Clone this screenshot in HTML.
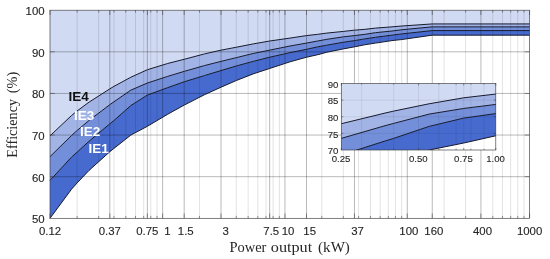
<!DOCTYPE html>
<html lang="en"><head><meta charset="utf-8"><title>Efficiency vs power output</title>
<style>html,body{margin:0;padding:0;background:#fff}body{width:550px;height:259px;overflow:hidden}svg{display:block}</style>
</head><body>
<svg width="550" height="259" viewBox="0 0 550 259">
<rect width="550" height="259" fill="#fff"/>
<g>
<path d="M50 10.2 L71.54 10.2 L77.14 10.2 L88.99 10.2 L109.82 10.2 L113.96 10.2 L130.88 10.2 L147.35 10.2 L167.7 10.2 L184.18 10.2 L204.52 10.2 L221 10.2 L236.28 10.2 L253.2 10.2 L269.67 10.2 L290.02 10.2 L306.5 10.2 L317.64 10.2 L326.84 10.2 L343.32 10.2 L354.46 10.2 L364.86 10.2 L375.52 10.2 L392 10.2 L401.68 10.2 L432.25 10.2 L529.6 10.2 L529.6 23.93 L432.25 23.93 L401.68 26.02 L392 26.85 L375.52 28.1 L364.86 29.35 L354.46 30.18 L343.32 31.43 L326.84 33.09 L317.64 34.34 L306.5 35.59 L290.02 38.09 L269.67 41 L253.2 43.91 L236.28 47.24 L221 50.16 L204.52 53.9 L184.18 59.31 L167.7 63.47 L147.35 69.72 L130.88 77.21 L113.96 86.36 L109.82 88.86 L88.99 102.18 L77.14 110.92 L71.54 115.5 L50 135.89Z" fill="#d1daf3"/>
<path d="M50 135.89 L71.54 115.5 L77.14 110.92 L88.99 102.18 L109.82 88.86 L113.96 86.36 L130.88 77.21 L147.35 69.72 L167.7 63.47 L184.18 59.31 L204.52 53.9 L221 50.16 L236.28 47.24 L253.2 43.91 L269.67 41 L290.02 38.09 L306.5 35.59 L317.64 34.34 L326.84 33.09 L343.32 31.43 L354.46 30.18 L364.86 29.35 L375.52 28.1 L392 26.85 L401.68 26.02 L432.25 23.93 L529.6 23.93 L529.6 26.85 L432.25 26.85 L401.68 29.76 L392 31.01 L375.52 32.67 L364.86 34.34 L354.46 35.59 L343.32 36.84 L326.84 39.33 L317.64 41 L306.5 43.08 L290.02 45.99 L269.67 50.16 L253.2 53.48 L236.28 57.65 L221 61.39 L204.52 65.55 L184.18 71.38 L167.7 76.38 L147.35 83.04 L130.88 90.11 L113.96 101.76 L109.82 104.68 L88.99 120.49 L77.14 130.48 L71.54 135.48 L50 156.7Z" fill="#a2b4e6"/>
<path d="M50 156.7 L71.54 135.48 L77.14 130.48 L88.99 120.49 L109.82 104.68 L113.96 101.76 L130.88 90.11 L147.35 83.04 L167.7 76.38 L184.18 71.38 L204.52 65.55 L221 61.39 L236.28 57.65 L253.2 53.48 L269.67 50.16 L290.02 45.99 L306.5 43.08 L317.64 41 L326.84 39.33 L343.32 36.84 L354.46 35.59 L364.86 34.34 L375.52 32.67 L392 31.01 L401.68 29.76 L432.25 26.85 L529.6 26.85 L529.6 30.59 L432.25 30.59 L401.68 33.92 L392 35.17 L375.52 37.25 L364.86 38.92 L354.46 40.58 L343.32 42.25 L326.84 45.16 L317.64 46.83 L306.5 49.32 L290.02 52.65 L269.67 57.23 L253.2 61.39 L236.28 65.97 L221 70.55 L204.52 75.54 L184.18 81.79 L167.7 87.61 L147.35 95.1 L130.88 105.51 L113.96 120.49 L109.82 123.82 L88.99 141.3 L77.14 152.12 L71.54 157.12 L50 180.43Z" fill="#748fda"/>
<path d="M50 180.43 L71.54 157.12 L77.14 152.12 L88.99 141.3 L109.82 123.82 L113.96 120.49 L130.88 105.51 L147.35 95.1 L167.7 87.61 L184.18 81.79 L204.52 75.54 L221 70.55 L236.28 65.97 L253.2 61.39 L269.67 57.23 L290.02 52.65 L306.5 49.32 L317.64 46.83 L326.84 45.16 L343.32 42.25 L354.46 40.58 L364.86 38.92 L375.52 37.25 L392 35.17 L401.68 33.92 L432.25 30.59 L529.6 30.59 L529.6 35.17 L432.25 35.17 L401.68 39.54 L392 40.58 L375.52 43.08 L364.86 44.74 L354.46 46.83 L343.32 48.91 L326.84 52.24 L317.64 54.73 L306.5 57.23 L290.02 61.81 L269.67 68.47 L253.2 73.88 L236.28 80.54 L221 87.2 L204.52 94.69 L184.18 105.09 L167.7 114.25 L147.35 126.32 L130.88 135.06 L113.96 148.38 L109.82 151.71 L88.99 170.44 L77.14 182.92 L71.54 189.17 L50 218.3Z" fill="#466ace"/>
</g>
<g><line x1="77.14" x2="77.14" y1="10.2" y2="218.3" stroke="#000" stroke-opacity="0.23" stroke-width="0.5"/><line x1="98.68" x2="98.68" y1="10.2" y2="218.3" stroke="#000" stroke-opacity="0.23" stroke-width="0.5"/><line x1="113.96" x2="113.96" y1="10.2" y2="218.3" stroke="#000" stroke-opacity="0.23" stroke-width="0.5"/><line x1="125.81" x2="125.81" y1="10.2" y2="218.3" stroke="#000" stroke-opacity="0.23" stroke-width="0.5"/><line x1="135.5" x2="135.5" y1="10.2" y2="218.3" stroke="#000" stroke-opacity="0.23" stroke-width="0.5"/><line x1="143.69" x2="143.69" y1="10.2" y2="218.3" stroke="#000" stroke-opacity="0.23" stroke-width="0.5"/><line x1="150.78" x2="150.78" y1="10.2" y2="218.3" stroke="#000" stroke-opacity="0.23" stroke-width="0.5"/><line x1="157.04" x2="157.04" y1="10.2" y2="218.3" stroke="#000" stroke-opacity="0.23" stroke-width="0.5"/><line x1="199.46" x2="199.46" y1="10.2" y2="218.3" stroke="#000" stroke-opacity="0.23" stroke-width="0.5"/><line x1="236.28" x2="236.28" y1="10.2" y2="218.3" stroke="#000" stroke-opacity="0.23" stroke-width="0.5"/><line x1="248.13" x2="248.13" y1="10.2" y2="218.3" stroke="#000" stroke-opacity="0.23" stroke-width="0.5"/><line x1="257.82" x2="257.82" y1="10.2" y2="218.3" stroke="#000" stroke-opacity="0.23" stroke-width="0.5"/><line x1="266.01" x2="266.01" y1="10.2" y2="218.3" stroke="#000" stroke-opacity="0.23" stroke-width="0.5"/><line x1="273.1" x2="273.1" y1="10.2" y2="218.3" stroke="#000" stroke-opacity="0.23" stroke-width="0.5"/><line x1="279.36" x2="279.36" y1="10.2" y2="218.3" stroke="#000" stroke-opacity="0.23" stroke-width="0.5"/><line x1="321.78" x2="321.78" y1="10.2" y2="218.3" stroke="#000" stroke-opacity="0.23" stroke-width="0.5"/><line x1="343.32" x2="343.32" y1="10.2" y2="218.3" stroke="#000" stroke-opacity="0.23" stroke-width="0.5"/><line x1="358.6" x2="358.6" y1="10.2" y2="218.3" stroke="#000" stroke-opacity="0.23" stroke-width="0.5"/><line x1="370.46" x2="370.46" y1="10.2" y2="218.3" stroke="#000" stroke-opacity="0.23" stroke-width="0.5"/><line x1="380.14" x2="380.14" y1="10.2" y2="218.3" stroke="#000" stroke-opacity="0.23" stroke-width="0.5"/><line x1="388.33" x2="388.33" y1="10.2" y2="218.3" stroke="#000" stroke-opacity="0.23" stroke-width="0.5"/><line x1="395.42" x2="395.42" y1="10.2" y2="218.3" stroke="#000" stroke-opacity="0.23" stroke-width="0.5"/><line x1="401.68" x2="401.68" y1="10.2" y2="218.3" stroke="#000" stroke-opacity="0.23" stroke-width="0.5"/><line x1="444.1" x2="444.1" y1="10.2" y2="218.3" stroke="#000" stroke-opacity="0.23" stroke-width="0.5"/><line x1="465.64" x2="465.64" y1="10.2" y2="218.3" stroke="#000" stroke-opacity="0.23" stroke-width="0.5"/><line x1="492.78" x2="492.78" y1="10.2" y2="218.3" stroke="#000" stroke-opacity="0.23" stroke-width="0.5"/><line x1="502.46" x2="502.46" y1="10.2" y2="218.3" stroke="#000" stroke-opacity="0.23" stroke-width="0.5"/><line x1="510.65" x2="510.65" y1="10.2" y2="218.3" stroke="#000" stroke-opacity="0.23" stroke-width="0.5"/><line x1="517.75" x2="517.75" y1="10.2" y2="218.3" stroke="#000" stroke-opacity="0.23" stroke-width="0.5"/><line x1="524" x2="524" y1="10.2" y2="218.3" stroke="#000" stroke-opacity="0.23" stroke-width="0.5"/><line x1="109.82" x2="109.82" y1="10.2" y2="218.3" stroke="#000" stroke-opacity="0.55" stroke-width="0.5"/><line x1="147.35" x2="147.35" y1="10.2" y2="218.3" stroke="#000" stroke-opacity="0.55" stroke-width="0.5"/><line x1="162.64" x2="162.64" y1="10.2" y2="218.3" stroke="#000" stroke-opacity="0.55" stroke-width="0.5"/><line x1="184.18" x2="184.18" y1="10.2" y2="218.3" stroke="#000" stroke-opacity="0.55" stroke-width="0.5"/><line x1="221" x2="221" y1="10.2" y2="218.3" stroke="#000" stroke-opacity="0.55" stroke-width="0.5"/><line x1="269.67" x2="269.67" y1="10.2" y2="218.3" stroke="#000" stroke-opacity="0.55" stroke-width="0.5"/><line x1="284.96" x2="284.96" y1="10.2" y2="218.3" stroke="#000" stroke-opacity="0.55" stroke-width="0.5"/><line x1="306.5" x2="306.5" y1="10.2" y2="218.3" stroke="#000" stroke-opacity="0.55" stroke-width="0.5"/><line x1="354.46" x2="354.46" y1="10.2" y2="218.3" stroke="#000" stroke-opacity="0.55" stroke-width="0.5"/><line x1="407.28" x2="407.28" y1="10.2" y2="218.3" stroke="#000" stroke-opacity="0.55" stroke-width="0.5"/><line x1="432.25" x2="432.25" y1="10.2" y2="218.3" stroke="#000" stroke-opacity="0.55" stroke-width="0.5"/><line x1="480.92" x2="480.92" y1="10.2" y2="218.3" stroke="#000" stroke-opacity="0.55" stroke-width="0.5"/><line x1="50.0" x2="529.6" y1="176.68" y2="176.68" stroke="#000" stroke-opacity="0.55" stroke-width="0.5"/><line x1="50.0" x2="529.6" y1="135.06" y2="135.06" stroke="#000" stroke-opacity="0.55" stroke-width="0.5"/><line x1="50.0" x2="529.6" y1="93.44" y2="93.44" stroke="#000" stroke-opacity="0.55" stroke-width="0.5"/><line x1="50.0" x2="529.6" y1="51.82" y2="51.82" stroke="#000" stroke-opacity="0.55" stroke-width="0.5"/></g>
<path d="M50 135.89 L71.54 115.5 L77.14 110.92 L88.99 102.18 L109.82 88.86 L113.96 86.36 L130.88 77.21 L147.35 69.72 L167.7 63.47 L184.18 59.31 L204.52 53.9 L221 50.16 L236.28 47.24 L253.2 43.91 L269.67 41 L290.02 38.09 L306.5 35.59 L317.64 34.34 L326.84 33.09 L343.32 31.43 L354.46 30.18 L364.86 29.35 L375.52 28.1 L392 26.85 L401.68 26.02 L432.25 23.93 L529.6 23.93" fill="none" stroke="#161a2c" stroke-width="1" stroke-linejoin="round"/>
<path d="M50 156.7 L71.54 135.48 L77.14 130.48 L88.99 120.49 L109.82 104.68 L113.96 101.76 L130.88 90.11 L147.35 83.04 L167.7 76.38 L184.18 71.38 L204.52 65.55 L221 61.39 L236.28 57.65 L253.2 53.48 L269.67 50.16 L290.02 45.99 L306.5 43.08 L317.64 41 L326.84 39.33 L343.32 36.84 L354.46 35.59 L364.86 34.34 L375.52 32.67 L392 31.01 L401.68 29.76 L432.25 26.85 L529.6 26.85" fill="none" stroke="#161a2c" stroke-width="1" stroke-linejoin="round"/>
<path d="M50 180.43 L71.54 157.12 L77.14 152.12 L88.99 141.3 L109.82 123.82 L113.96 120.49 L130.88 105.51 L147.35 95.1 L167.7 87.61 L184.18 81.79 L204.52 75.54 L221 70.55 L236.28 65.97 L253.2 61.39 L269.67 57.23 L290.02 52.65 L306.5 49.32 L317.64 46.83 L326.84 45.16 L343.32 42.25 L354.46 40.58 L364.86 38.92 L375.52 37.25 L392 35.17 L401.68 33.92 L432.25 30.59 L529.6 30.59" fill="none" stroke="#161a2c" stroke-width="1" stroke-linejoin="round"/>
<path d="M50 218.3 L71.54 189.17 L77.14 182.92 L88.99 170.44 L109.82 151.71 L113.96 148.38 L130.88 135.06 L147.35 126.32 L167.7 114.25 L184.18 105.09 L204.52 94.69 L221 87.2 L236.28 80.54 L253.2 73.88 L269.67 68.47 L290.02 61.81 L306.5 57.23 L317.64 54.73 L326.84 52.24 L343.32 48.91 L354.46 46.83 L364.86 44.74 L375.52 43.08 L392 40.58 L401.68 39.54 L432.25 35.17 L529.6 35.17" fill="none" stroke="#161a2c" stroke-width="1" stroke-linejoin="round"/>
<g stroke="#3c3c3c" stroke-width="0.55"><line x1="50" x2="50" y1="218.3" y2="213.5"/><line x1="50" x2="50" y1="10.2" y2="15.0"/><line x1="109.82" x2="109.82" y1="218.3" y2="213.5"/><line x1="109.82" x2="109.82" y1="10.2" y2="15.0"/><line x1="147.35" x2="147.35" y1="218.3" y2="213.5"/><line x1="147.35" x2="147.35" y1="10.2" y2="15.0"/><line x1="162.64" x2="162.64" y1="218.3" y2="213.5"/><line x1="162.64" x2="162.64" y1="10.2" y2="15.0"/><line x1="184.18" x2="184.18" y1="218.3" y2="213.5"/><line x1="184.18" x2="184.18" y1="10.2" y2="15.0"/><line x1="221" x2="221" y1="218.3" y2="213.5"/><line x1="221" x2="221" y1="10.2" y2="15.0"/><line x1="269.67" x2="269.67" y1="218.3" y2="213.5"/><line x1="269.67" x2="269.67" y1="10.2" y2="15.0"/><line x1="284.96" x2="284.96" y1="218.3" y2="213.5"/><line x1="284.96" x2="284.96" y1="10.2" y2="15.0"/><line x1="306.5" x2="306.5" y1="218.3" y2="213.5"/><line x1="306.5" x2="306.5" y1="10.2" y2="15.0"/><line x1="354.46" x2="354.46" y1="218.3" y2="213.5"/><line x1="354.46" x2="354.46" y1="10.2" y2="15.0"/><line x1="407.28" x2="407.28" y1="218.3" y2="213.5"/><line x1="407.28" x2="407.28" y1="10.2" y2="15.0"/><line x1="432.25" x2="432.25" y1="218.3" y2="213.5"/><line x1="432.25" x2="432.25" y1="10.2" y2="15.0"/><line x1="480.92" x2="480.92" y1="218.3" y2="213.5"/><line x1="480.92" x2="480.92" y1="10.2" y2="15.0"/><line x1="529.6" x2="529.6" y1="218.3" y2="213.5"/><line x1="529.6" x2="529.6" y1="10.2" y2="15.0"/><line x1="77.14" x2="77.14" y1="218.3" y2="215.9"/><line x1="77.14" x2="77.14" y1="10.2" y2="12.6"/><line x1="98.68" x2="98.68" y1="218.3" y2="215.9"/><line x1="98.68" x2="98.68" y1="10.2" y2="12.6"/><line x1="113.96" x2="113.96" y1="218.3" y2="215.9"/><line x1="113.96" x2="113.96" y1="10.2" y2="12.6"/><line x1="125.81" x2="125.81" y1="218.3" y2="215.9"/><line x1="125.81" x2="125.81" y1="10.2" y2="12.6"/><line x1="135.5" x2="135.5" y1="218.3" y2="215.9"/><line x1="135.5" x2="135.5" y1="10.2" y2="12.6"/><line x1="143.69" x2="143.69" y1="218.3" y2="215.9"/><line x1="143.69" x2="143.69" y1="10.2" y2="12.6"/><line x1="150.78" x2="150.78" y1="218.3" y2="215.9"/><line x1="150.78" x2="150.78" y1="10.2" y2="12.6"/><line x1="157.04" x2="157.04" y1="218.3" y2="215.9"/><line x1="157.04" x2="157.04" y1="10.2" y2="12.6"/><line x1="199.46" x2="199.46" y1="218.3" y2="215.9"/><line x1="199.46" x2="199.46" y1="10.2" y2="12.6"/><line x1="236.28" x2="236.28" y1="218.3" y2="215.9"/><line x1="236.28" x2="236.28" y1="10.2" y2="12.6"/><line x1="248.13" x2="248.13" y1="218.3" y2="215.9"/><line x1="248.13" x2="248.13" y1="10.2" y2="12.6"/><line x1="257.82" x2="257.82" y1="218.3" y2="215.9"/><line x1="257.82" x2="257.82" y1="10.2" y2="12.6"/><line x1="266.01" x2="266.01" y1="218.3" y2="215.9"/><line x1="266.01" x2="266.01" y1="10.2" y2="12.6"/><line x1="273.1" x2="273.1" y1="218.3" y2="215.9"/><line x1="273.1" x2="273.1" y1="10.2" y2="12.6"/><line x1="279.36" x2="279.36" y1="218.3" y2="215.9"/><line x1="279.36" x2="279.36" y1="10.2" y2="12.6"/><line x1="321.78" x2="321.78" y1="218.3" y2="215.9"/><line x1="321.78" x2="321.78" y1="10.2" y2="12.6"/><line x1="343.32" x2="343.32" y1="218.3" y2="215.9"/><line x1="343.32" x2="343.32" y1="10.2" y2="12.6"/><line x1="358.6" x2="358.6" y1="218.3" y2="215.9"/><line x1="358.6" x2="358.6" y1="10.2" y2="12.6"/><line x1="370.46" x2="370.46" y1="218.3" y2="215.9"/><line x1="370.46" x2="370.46" y1="10.2" y2="12.6"/><line x1="380.14" x2="380.14" y1="218.3" y2="215.9"/><line x1="380.14" x2="380.14" y1="10.2" y2="12.6"/><line x1="388.33" x2="388.33" y1="218.3" y2="215.9"/><line x1="388.33" x2="388.33" y1="10.2" y2="12.6"/><line x1="395.42" x2="395.42" y1="218.3" y2="215.9"/><line x1="395.42" x2="395.42" y1="10.2" y2="12.6"/><line x1="401.68" x2="401.68" y1="218.3" y2="215.9"/><line x1="401.68" x2="401.68" y1="10.2" y2="12.6"/><line x1="444.1" x2="444.1" y1="218.3" y2="215.9"/><line x1="444.1" x2="444.1" y1="10.2" y2="12.6"/><line x1="465.64" x2="465.64" y1="218.3" y2="215.9"/><line x1="465.64" x2="465.64" y1="10.2" y2="12.6"/><line x1="492.78" x2="492.78" y1="218.3" y2="215.9"/><line x1="492.78" x2="492.78" y1="10.2" y2="12.6"/><line x1="502.46" x2="502.46" y1="218.3" y2="215.9"/><line x1="502.46" x2="502.46" y1="10.2" y2="12.6"/><line x1="510.65" x2="510.65" y1="218.3" y2="215.9"/><line x1="510.65" x2="510.65" y1="10.2" y2="12.6"/><line x1="517.75" x2="517.75" y1="218.3" y2="215.9"/><line x1="517.75" x2="517.75" y1="10.2" y2="12.6"/><line x1="524" x2="524" y1="218.3" y2="215.9"/><line x1="524" x2="524" y1="10.2" y2="12.6"/><line x1="50.0" x2="54.8" y1="176.68" y2="176.68"/><line x1="529.6" x2="524.8000000000001" y1="176.68" y2="176.68"/><line x1="50.0" x2="54.8" y1="135.06" y2="135.06"/><line x1="529.6" x2="524.8000000000001" y1="135.06" y2="135.06"/><line x1="50.0" x2="54.8" y1="93.44" y2="93.44"/><line x1="529.6" x2="524.8000000000001" y1="93.44" y2="93.44"/><line x1="50.0" x2="54.8" y1="51.82" y2="51.82"/><line x1="529.6" x2="524.8000000000001" y1="51.82" y2="51.82"/></g>
<rect x="50.0" y="10.2" width="479.6" height="208.1" fill="none" stroke="#3c3c3c" stroke-width="0.65"/>
<g font-family="Liberation Sans, Arial, sans-serif" font-size="11.4" fill="#262626" stroke="#262626" stroke-width="0.12"><text x="44.6" y="15.08" text-anchor="end">100</text><text x="44.6" y="56.7" text-anchor="end">90</text><text x="44.6" y="98.32" text-anchor="end">80</text><text x="44.6" y="139.94" text-anchor="end">70</text><text x="44.6" y="181.56" text-anchor="end">60</text><text x="44.6" y="223.18" text-anchor="end">50</text><text x="50" y="235.0" text-anchor="middle">0.12</text><text x="109.82" y="235.0" text-anchor="middle">0.37</text><text x="147.35" y="235.0" text-anchor="middle">0.75</text><text x="167.39" y="235.0" text-anchor="middle">1</text><text x="185.76" y="235.0" text-anchor="middle">1.5</text><text x="225.75" y="235.0" text-anchor="middle">3</text><text x="271.26" y="235.0" text-anchor="middle">7.5</text><text x="288.13" y="235.0" text-anchor="middle">10</text><text x="309.67" y="235.0" text-anchor="middle">15</text><text x="357.63" y="235.0" text-anchor="middle">37</text><text x="408.86" y="235.0" text-anchor="middle">100</text><text x="433.83" y="235.0" text-anchor="middle">160</text><text x="482.51" y="235.0" text-anchor="middle">400</text><text x="529.6" y="235.0" text-anchor="middle">1000</text></g>
<text y="251.6" font-family="Liberation Serif, serif" font-size="13.9" fill="#262626"><tspan x="229.4" textLength="37" lengthAdjust="spacingAndGlyphs">Power</tspan> <tspan x="270.8" textLength="41.4" lengthAdjust="spacingAndGlyphs">output</tspan> <tspan x="318.1" textLength="31.8" lengthAdjust="spacingAndGlyphs">(kW)</tspan></text>
<text transform="translate(17.4 0) rotate(-90)" y="0" font-family="Liberation Serif, serif" font-size="13.9" fill="#262626"><tspan x="-157.7" textLength="58.7" lengthAdjust="spacingAndGlyphs">Efficiency</tspan> <tspan x="-93.2" textLength="21.5" lengthAdjust="spacingAndGlyphs">(%)</tspan></text>
<g font-family="Liberation Sans, Arial, sans-serif" font-weight="bold" font-size="13.5"><text x="68.4" y="100.8" fill="#111">IE4</text><text x="74.1" y="119.8" fill="#fff">IE3</text><text x="79.9" y="136.1" fill="#fff">IE2</text><text x="88.6" y="153.3" fill="#fff">IE1</text></g>
<clipPath id="ic"><rect x="341.3" y="83.5" width="154.5" height="66.5"/></clipPath>
<rect x="341.3" y="83.5" width="154.5" height="66.5" fill="#fff"/>
<g clip-path="url(#ic)">
<path d="M316.43 50.25 L341.3 50.25 L384.99 50.25 L393.68 50.25 L429.17 50.25 L463.74 50.25 L506.42 50.25 L506.42 92.81 L463.74 97.8 L429.17 103.78 L393.68 111.1 L384.99 113.09 L341.3 123.73 L316.43 130.72Z" fill="#d1daf3"/>
<path d="M316.43 130.72 L341.3 123.73 L384.99 113.09 L393.68 111.1 L429.17 103.78 L463.74 97.8 L506.42 92.81 L506.42 103.12 L463.74 108.44 L429.17 114.09 L393.68 123.4 L384.99 125.73 L341.3 138.36 L316.43 146.34Z" fill="#a2b4e6"/>
<path d="M316.43 146.34 L341.3 138.36 L384.99 125.73 L393.68 123.4 L429.17 114.09 L463.74 108.44 L506.42 103.12 L506.42 112.09 L463.74 118.08 L429.17 126.39 L393.68 138.36 L384.99 141.02 L341.3 154.99 L316.43 163.63Z" fill="#748fda"/>
<path d="M316.43 163.63 L341.3 154.99 L384.99 141.02 L393.68 138.36 L429.17 126.39 L463.74 118.08 L506.42 112.09 L506.42 133.38 L463.74 143.02 L429.17 150 L393.68 160.64 L384.99 163.3 L341.3 178.26 L316.43 188.24Z" fill="#466ace"/>
<line x1="361.62" x2="361.62" y1="83.5" y2="150.0" stroke="#000" stroke-opacity="0.13" stroke-width="0.6"/><line x1="393.68" x2="393.68" y1="83.5" y2="150.0" stroke="#000" stroke-opacity="0.13" stroke-width="0.6"/><line x1="438.87" x2="438.87" y1="83.5" y2="150.0" stroke="#000" stroke-opacity="0.13" stroke-width="0.6"/><line x1="456.05" x2="456.05" y1="83.5" y2="150.0" stroke="#000" stroke-opacity="0.13" stroke-width="0.6"/><line x1="470.93" x2="470.93" y1="83.5" y2="150.0" stroke="#000" stroke-opacity="0.13" stroke-width="0.6"/><line x1="484.06" x2="484.06" y1="83.5" y2="150.0" stroke="#000" stroke-opacity="0.13" stroke-width="0.6"/><line x1="418.55" x2="418.55" y1="83.5" y2="150.0" stroke="#000" stroke-opacity="0.13" stroke-width="0.6"/><line x1="463.74" x2="463.74" y1="83.5" y2="150.0" stroke="#000" stroke-opacity="0.13" stroke-width="0.6"/><line x1="341.3" x2="495.8" y1="133.38" y2="133.38" stroke="#000" stroke-opacity="0.13" stroke-width="0.6"/><line x1="341.3" x2="495.8" y1="116.75" y2="116.75" stroke="#000" stroke-opacity="0.13" stroke-width="0.6"/><line x1="341.3" x2="495.8" y1="100.12" y2="100.12" stroke="#000" stroke-opacity="0.13" stroke-width="0.6"/>
<path d="M316.43 130.72 L341.3 123.73 L384.99 113.09 L393.68 111.1 L429.17 103.78 L463.74 97.8 L506.42 92.81" fill="none" stroke="#161a2c" stroke-width="1" stroke-linejoin="round"/>
<path d="M316.43 146.34 L341.3 138.36 L384.99 125.73 L393.68 123.4 L429.17 114.09 L463.74 108.44 L506.42 103.12" fill="none" stroke="#161a2c" stroke-width="1" stroke-linejoin="round"/>
<path d="M316.43 163.63 L341.3 154.99 L384.99 141.02 L393.68 138.36 L429.17 126.39 L463.74 118.08 L506.42 112.09" fill="none" stroke="#161a2c" stroke-width="1" stroke-linejoin="round"/>
<path d="M316.43 188.24 L341.3 178.26 L384.99 163.3 L393.68 160.64 L429.17 150 L463.74 143.02 L506.42 133.38" fill="none" stroke="#161a2c" stroke-width="1" stroke-linejoin="round"/>
</g>
<g stroke="#3c3c3c" stroke-width="0.55"><line x1="341.3" x2="341.3" y1="150.0" y2="148.0"/><line x1="341.3" x2="341.3" y1="83.5" y2="85.5"/><line x1="418.55" x2="418.55" y1="150.0" y2="148.0"/><line x1="418.55" x2="418.55" y1="83.5" y2="85.5"/><line x1="463.74" x2="463.74" y1="150.0" y2="148.0"/><line x1="463.74" x2="463.74" y1="83.5" y2="85.5"/><line x1="495.8" x2="495.8" y1="150.0" y2="148.0"/><line x1="495.8" x2="495.8" y1="83.5" y2="85.5"/><line x1="361.62" x2="361.62" y1="150.0" y2="148.8"/><line x1="361.62" x2="361.62" y1="83.5" y2="84.7"/><line x1="393.68" x2="393.68" y1="150.0" y2="148.8"/><line x1="393.68" x2="393.68" y1="83.5" y2="84.7"/><line x1="438.87" x2="438.87" y1="150.0" y2="148.8"/><line x1="438.87" x2="438.87" y1="83.5" y2="84.7"/><line x1="456.05" x2="456.05" y1="150.0" y2="148.8"/><line x1="456.05" x2="456.05" y1="83.5" y2="84.7"/><line x1="470.93" x2="470.93" y1="150.0" y2="148.8"/><line x1="470.93" x2="470.93" y1="83.5" y2="84.7"/><line x1="484.06" x2="484.06" y1="150.0" y2="148.8"/><line x1="484.06" x2="484.06" y1="83.5" y2="84.7"/><line x1="341.3" x2="343.3" y1="133.38" y2="133.38"/><line x1="495.8" x2="493.8" y1="133.38" y2="133.38"/><line x1="341.3" x2="343.3" y1="116.75" y2="116.75"/><line x1="495.8" x2="493.8" y1="116.75" y2="116.75"/><line x1="341.3" x2="343.3" y1="100.12" y2="100.12"/><line x1="495.8" x2="493.8" y1="100.12" y2="100.12"/></g>
<rect x="341.3" y="83.5" width="154.5" height="66.5" fill="none" stroke="#3c3c3c" stroke-width="0.65"/>
<g font-family="Liberation Sans, Arial, sans-serif" font-size="9.6" fill="#262626" stroke="#262626" stroke-width="0.1"><text x="338.4" y="87.74" text-anchor="end">90</text><text x="338.4" y="104.36" text-anchor="end">85</text><text x="338.4" y="120.99" text-anchor="end">80</text><text x="338.4" y="137.61" text-anchor="end">75</text><text x="338.4" y="154.24" text-anchor="end">70</text><text x="341" y="161.7" text-anchor="middle">0.25</text><text x="418.25" y="161.7" text-anchor="middle">0.50</text><text x="463.44" y="161.7" text-anchor="middle">0.75</text><text x="495.5" y="161.7" text-anchor="middle">1.00</text></g>
</svg>
</body></html>
